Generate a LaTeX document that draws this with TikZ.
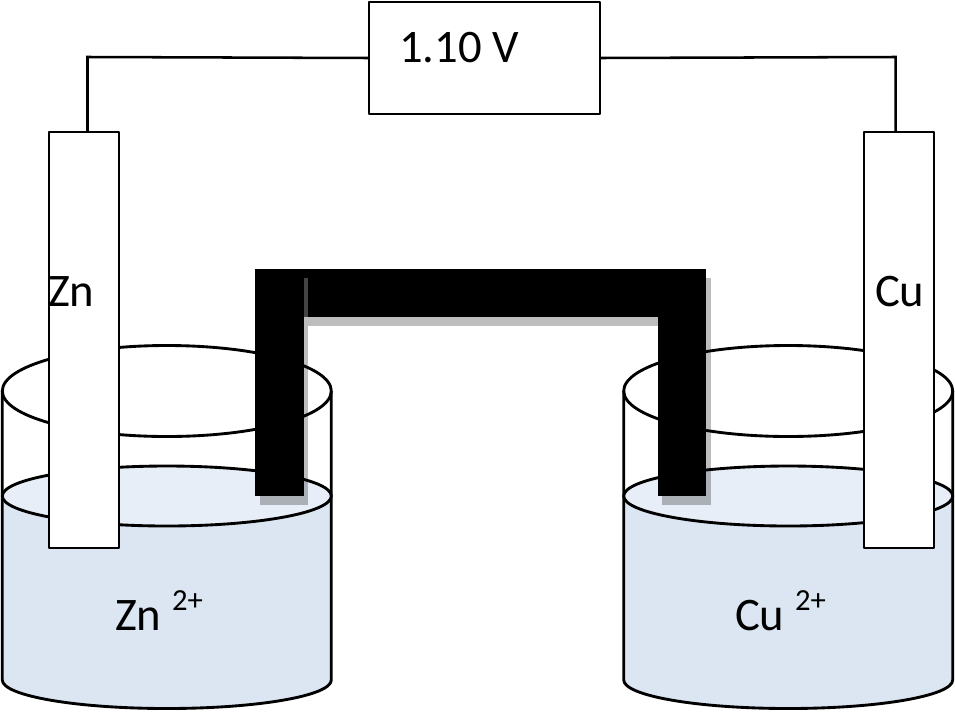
\documentclass[tikz,border=0pt]{standalone}
\usepackage{fontspec}
\setmainfont{Carlito}
\definecolor{liquid}{HTML}{DCE6F2}
\definecolor{liquidtop}{HTML}{E8EEF7}
\definecolor{seam}{HTML}{444444}
\tikzset{
  x=0.75pt,y=-0.75pt,
  outline/.style={draw=black,line width=2.15pt,line join=round},
  wire/.style={draw=black,line width=1.9pt},
  electrode/.style={outline,fill=white,rectangle,inner sep=0pt,outer sep=0pt,minimum width=52.5pt,minimum height=312pt},
  meter/.style={outline,fill=white,rectangle,inner sep=0pt,outer sep=0pt,minimum width=173.25pt,minimum height=84pt},
  biglabel/.style={inner sep=0pt,outer sep=0pt,anchor=base west,font=\fontsize{35}{42}\selectfont},
  suplabel/.style={inner sep=0pt,outer sep=0pt,anchor=base west,font=\fontsize{23}{28}\selectfont},
  bridgeshadow/.style={fill=black,fill opacity=0.26},
  bridge/.style={fill=black},
  beaker/.pic={
    \fill[liquid] (-164.5,496) -- (-164.5,680) arc[start angle=180,end angle=360,x radius=164.5,y radius=-28.5] -- (164.5,496) -- cycle;
    \draw[outline] (-164.5,391) -- (-164.5,680) arc[start angle=180,end angle=360,x radius=164.5,y radius=-28.5] -- (164.5,391);
    \draw[outline,fill=liquidtop] (0,496) ellipse[x radius=164.5,y radius=30];
    \draw[outline] (0,391) ellipse[x radius=164.5,y radius=45.5];
  }
}
\begin{document}
\begin{tikzpicture}
\useasboundingbox (0,0) rectangle (955,711);
\pic at (166.8,0) {beaker};
\pic at (788.2,0) {beaker};
% bridge shadow and body
\fill[bridgeshadow] (308,317) rectangle (658,326);
\fill[bridgeshadow] (662,326) rectangle (711,505);
\fill[bridgeshadow] (706,278) rectangle (711,326);
\fill[bridge] (304,269) rectangle (706,317);
\fill[bridge] (658,317) rectangle (706,496);
\fill[seam] (304,278) rectangle (308,317);
\fill[bridgeshadow] (304,317) rectangle (308,505);
\fill[bridgeshadow] (260,496) rectangle (304,505);
\fill[bridge] (255,269) rectangle (304,496);
% electrodes and meter
\node[electrode] (zn) at (84,340) {};
\node[electrode] (cu) at (899,340) {};
\node[meter] (box) at (484.5,58) {};
\coordinate (wl) at (87.5,57);
\coordinate (wr) at (895.5,57);
\draw[wire] (box.west) -- (wl) -- (wl |- zn.north);
\draw[wire] (box.east) -- (wr) -- (wr |- cu.north);
% labels
\node[biglabel] (volt) at (399,62) {1.10 V};
\node[biglabel] (znlabel) at (48,306) {Zn};
\node[biglabel] (culabel) at (875,306) {Cu};
\node[biglabel] (znion) at (115,630) {Zn};
\node[suplabel] (znsup) at (172,610) {2+};
\node[biglabel] (cuion) at (735,630) {Cu};
\node[suplabel] (cusup) at (795,610) {2+};
\end{tikzpicture}
\end{document}
